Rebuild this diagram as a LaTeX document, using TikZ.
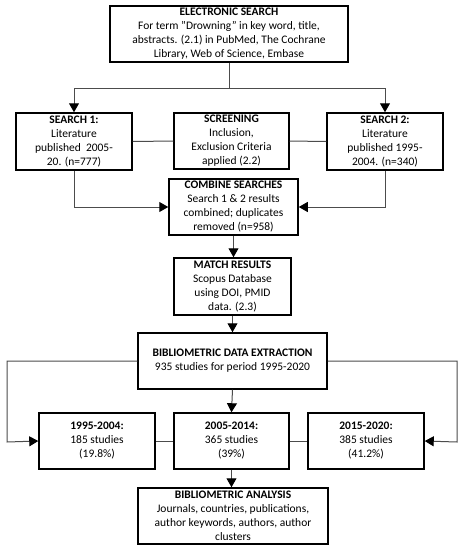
\documentclass[tikz,border=0pt]{standalone}
\usepackage{fontspec}
\setmainfont{Carlito}
\usetikzlibrary{arrows.meta}
\begin{document}
\begin{tikzpicture}[x=1pt,y=-1pt,
  box/.style={draw=black,line width=1.5pt,align=center,inner sep=1pt,
    font=\fontsize{11.5}{14}\selectfont},
  conn/.style={draw=black!70,line width=1pt},
  tip/.style={-{Triangle[width=10pt,length=9pt,color=black]}}]
\useasboundingbox (0,0) rectangle (464,550);
\fill[white] (0,0) rectangle (464,550);
\node[box,minimum width=238pt,minimum height=56pt] (es) at (229,34)
  {\textbf{ELECTRONIC SEARCH}\\For term "Drowning" in key word, title,\\abstracts. (2.1) in PubMed, The Cochrane\\Library, Web of Science, Embase};
\node[box,minimum width=116pt,minimum height=57pt] (s1) at (74,141.5)
  {\textbf{SEARCH 1:}\\Literature\\published~ 2005-\\20. (n=777)};
\node[box,minimum width=115pt,minimum height=56pt] (scr) at (231.5,141)
  {\textbf{SCREENING}\\Inclusion,\\Exclusion Criteria\\applied (2.2)};
\node[box,minimum width=116pt,minimum height=57pt] (s2) at (385,141.5)
  {\textbf{SEARCH 2:}\\Literature\\published 1995-\\2004. (n=340)};
\node[box,minimum width=129pt,minimum height=56pt] (comb) at (233.5,207)
  {\textbf{COMBINE SEARCHES}\\Search 1 \& 2 results\\combined; duplicates\\removed (n=958)};
\node[box,minimum width=117pt,minimum height=57pt] (match) at (232.5,286.5)
  {\textbf{MATCH RESULTS}\\Scopus Database\\using DOI, PMID\\data. (2.3)};
\node[box,minimum width=189pt,minimum height=56pt] (ext) at (232.5,361)
  {\textbf{BIBLIOMETRIC DATA EXTRACTION}\\935 studies for period 1995-2020};
\node[box,minimum width=116pt,minimum height=56pt] (p1) at (97,441)
  {\textbf{1995-2004:}\\185 studies\\(19.8\%)};
\node[box,minimum width=115pt,minimum height=56pt] (p2) at (231.5,441)
  {\textbf{2005-2014:}\\365 studies\\(39\%)};
\node[box,minimum width=116pt,minimum height=56pt] (p3) at (366,441)
  {\textbf{2015-2020:}\\385 studies\\(41.2\%)};
\node[box,minimum width=190pt,minimum height=56pt] (ana) at (233,516)
  {\textbf{BIBLIOMETRIC ANALYSIS}\\Journals, countries, publications,\\author keywords, authors, author\\clusters};
\coordinate (j1) at (229,88);
\coordinate (lc) at (7,442);
\coordinate (rc) at (457,442);
\draw[conn,tip] (es.south) -- (j1) -| (s1.north);
\draw[conn,tip] (j1) -| (s2.north);
\draw[conn] (s1.east) -- (scr.west);
\draw[conn] (scr.east) -- (s2.west);
\draw[conn,tip] (s1.south) |- (comb.west);
\draw[conn,tip] (s2.south) |- (comb.east);
\draw[conn,tip] (comb.south) -- (comb.south|-match.north);
\draw[conn,tip] (match.south) -- (match.south|-ext.north);
\draw[conn,tip] (ext.west) -| (lc) -- (p1.west);
\draw[conn,tip] (ext.east) -| (rc) -- (p3.east);
\draw[conn,tip] (ext.south) -- (p2.north);
\draw[conn] (p1.east) -- (p2.west);
\draw[conn] (p2.east) -- (p3.west);
\draw[conn,tip] (p2.south) -- (p2.south|-ana.north);
\end{tikzpicture}
\end{document}
